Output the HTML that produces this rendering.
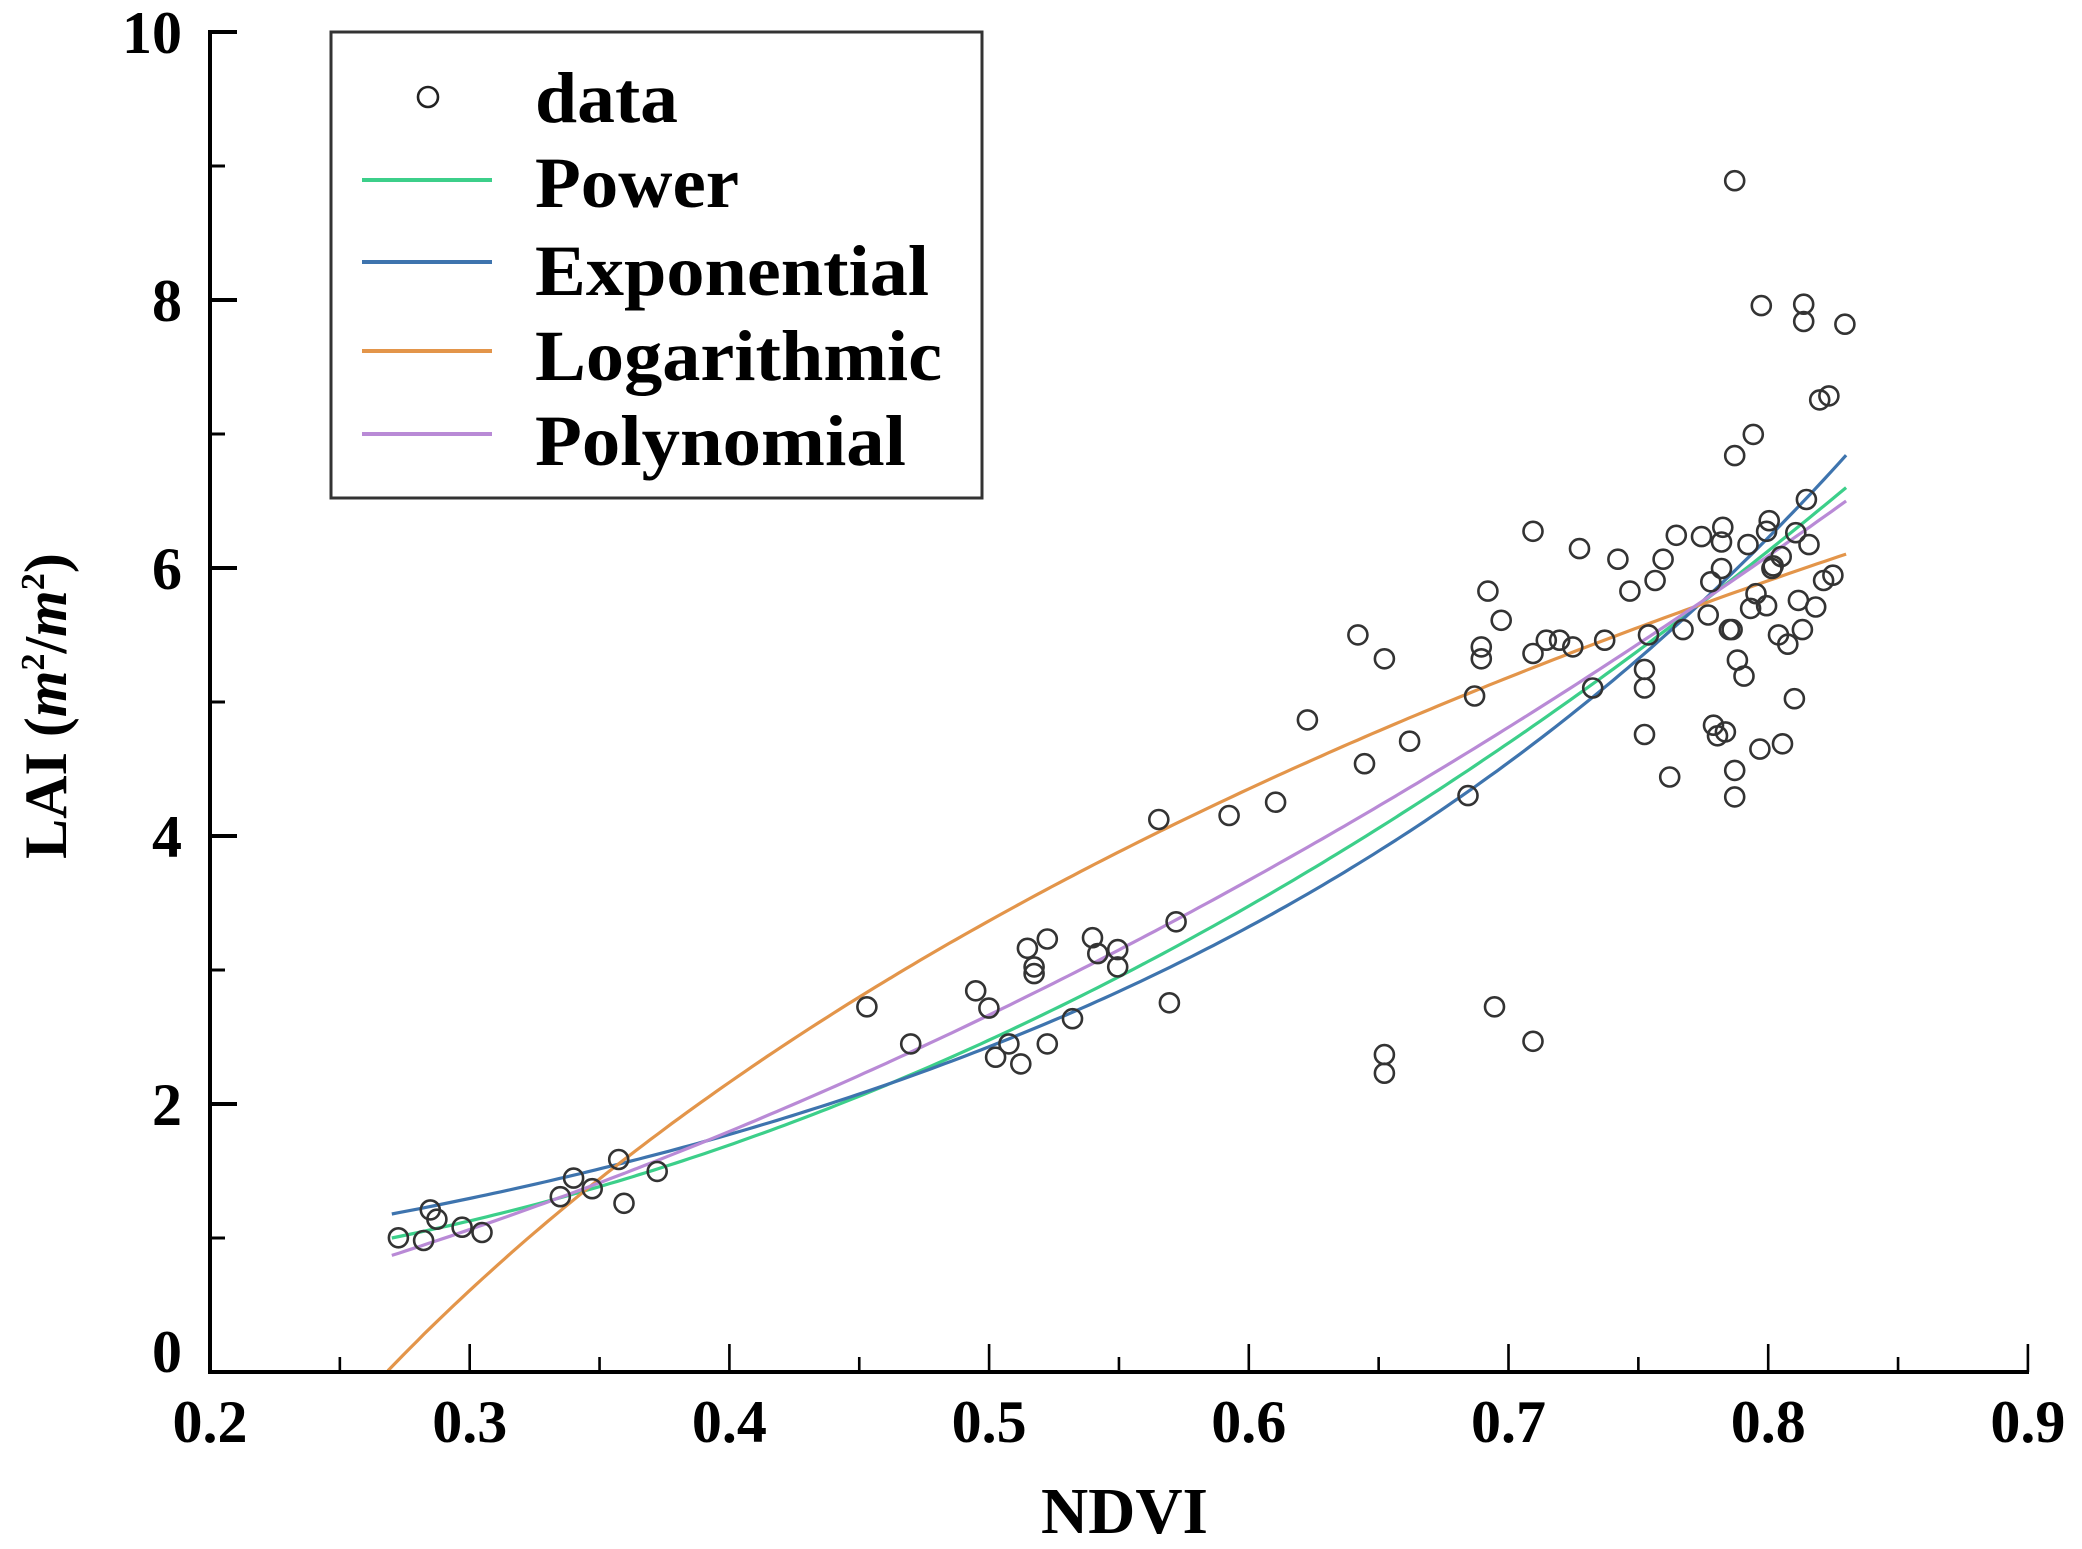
<!DOCTYPE html>
<html><head><meta charset="utf-8"><style>
html,body{margin:0;padding:0;background:#fff;}
svg{display:block;font-family:"Liberation Serif",serif;font-weight:bold;}
</style></head><body>
<svg id="s" width="2082" height="1549" viewBox="0 0 2082 1549" xmlns="http://www.w3.org/2000/svg">
<g id="curves" fill="none" stroke-width="3.2"></g>
<g id="pts" fill="none" stroke="#333" stroke-width="2.6"></g>
<g id="axes" stroke="#000"></g>
<g id="lbl" fill="#000"></g>
<rect x="331" y="32" width="651" height="466" fill="#fff" stroke="#333" stroke-width="3"/>
<circle cx="428" cy="97" r="10" fill="none" stroke="#222" stroke-width="2.6"/>
<line x1="362" y1="180" x2="492" y2="180" stroke="#3ccf8a" stroke-width="4"/>
<line x1="362" y1="262" x2="492" y2="262" stroke="#3e74ae" stroke-width="4"/>
<line x1="362" y1="351" x2="492" y2="351" stroke="#e3954a" stroke-width="4"/>
<line x1="362" y1="434" x2="492" y2="434" stroke="#b98ad6" stroke-width="4"/>
<g font-size="72" fill="#000">
<text x="535" y="122" textLength="143" lengthAdjust="spacingAndGlyphs">data</text>
<text x="535" y="207" textLength="204" lengthAdjust="spacingAndGlyphs">Power</text>
<text x="535" y="295" textLength="394" lengthAdjust="spacingAndGlyphs">Exponential</text>
<text x="535" y="380" textLength="407" lengthAdjust="spacingAndGlyphs">Logarithmic</text>
<text x="535" y="465" textLength="371" lengthAdjust="spacingAndGlyphs">Polynomial</text>
</g>
<text x="1041" y="1533" font-size="66" textLength="167" lengthAdjust="spacingAndGlyphs">NDVI</text>
<text transform="translate(66,706) rotate(-90)" font-size="60" text-anchor="middle">LAI (<tspan font-style="italic">m</tspan><tspan font-size="34" dy="-22">2</tspan><tspan dy="22">/</tspan><tspan font-style="italic">m</tspan><tspan font-size="34" dy="-22">2</tspan><tspan dy="22">)</tspan></text>
</svg>
<script>
var X0=210,XS=2597,Y0=1372,YS=134;
function px(x){return X0+(x-0.2)*XS;}
function py(y){return Y0-y*YS;}
var NS="http://www.w3.org/2000/svg";
function el(p,t,a){var e=document.createElementNS(NS,t);for(var k in a)e.setAttribute(k,a[k]);document.getElementById(p).appendChild(e);return e;}
function quad(p){return function(x){var s=0;for(var i=0;i<3;i++){var t=p[i][1];for(var j=0;j<3;j++)if(j!=i)t*=(x-p[j][0])/(p[i][0]-p[j][0]);s+=t;}return s;};}
var fs=[
 ["#3ccf8a",quad([[0.27,1.0],[0.55,2.95],[0.83,6.6]]),0.27],
 ["#3e74ae",function(x){return 0.505*Math.exp(3.14*x);},0.27],
 ["#e3954a",function(x){return 7.11+5.4*Math.log(x);},0.2685],
 ["#b98ad6",quad([[0.27,0.87],[0.55,3.15],[0.83,6.5]]),0.27]
];
fs.forEach(function(f){var d="";for(var i=0;i<=200;i++){var x=f[2]+(0.83-f[2])*i/200;var y=Math.max(0,f[1](x));d+=(i?"L":"M")+px(x).toFixed(1)+","+py(y).toFixed(1);}el("curves","path",{d:d,stroke:f[0]});});
var P=[[299,932],[318,934],[323,911],[328,918],[347,924],[362,928],[421,901],[431,887],[445,895],[465,873],[469,906],[494,882],
[652,758],[685,786],[734,746],[744,759],[749,796],[759,786],[768,801],[773,714],[778,728],[778,733],[788,707],[788,786],[807,767],[822,706],[826,718],[841,715],[841,728],[872,617],[880,755],[885,694],[925,614],[960,604],[984,542],
[1022,478],[1027,575],[1042,496],[1042,794],[1042,808],[1061,558],[1105,599],[1110,524],[1115,496],[1115,487],[1120,445],[1125,758],[1130,467],[1154,400],[1154,492],[1154,784],[1164,482],[1174,482],[1184,487],[1189,413],[1199,518],[1208,482],[1218,421],[1227,445],[1238,553],[1238,518],[1238,504],[1241,478],[1246,437],[1252,421],[1257,585],[1262,403],[1267,474],[1281,404],[1286,463],[1288,438],[1290,546],[1293,554],[1296,408],[1296,428],[1297,397],[1299,551],[1302,474],[1304,474],[1306,343],[1306,580],[1306,600],[1306,136],[1308,497],[1313,509],[1316,410],[1318,458],[1320,327],[1322,447],[1325,564],[1326,230],[1330,456],[1330,400],[1332,392],[1334,428],[1335,426],[1339,478],[1341,419],[1342,560],[1346,485],[1351,526],[1352,401],[1354,452],[1357,474],[1358,242],[1358,229],[1360,376],[1362,410],[1367,457],[1370,301],[1373,437],[1377,298],[1380,433],[1389,244]];
P.forEach(function(p){el("pts","circle",{cx:(210+(p[0]-157)*1.327).toFixed(1),cy:(32+(p[1]-24)*1.328).toFixed(1),r:9.5});});
el("axes","line",{x1:210,y1:1372,x2:2029,y2:1372,"stroke-width":4});
el("axes","line",{x1:210,y1:30,x2:210,y2:1374,"stroke-width":4});
for(var i=0;i<=14;i++){var x=px(0.2+i*0.05);var L=(i%2==0)?28:15;if(i>0)el("axes","line",{x1:x,y1:1372,x2:x,y2:1372-L,"stroke-width":2.6});}
for(var i=0;i<=10;i++){var y=py(i);var L=(i%2==0)?27:15;el("axes","line",{x1:210,y1:y,x2:210+L,y2:y,"stroke-width":(i%2==0)?4:3});}
for(var i=0;i<=7;i++){var t=el("lbl","text",{x:px(0.2+i*0.1),y:1442,"font-size":60,"text-anchor":"middle"});t.textContent=(i==7?"0.9":(0.2+i*0.1).toFixed(1));}
for(var i=0;i<=10;i+=2){var t=el("lbl","text",{x:182,y:(i==0?1372:py(i)+21),"font-size":60,"text-anchor":"end"});t.textContent=String(i);}
</script>
</body></html>
